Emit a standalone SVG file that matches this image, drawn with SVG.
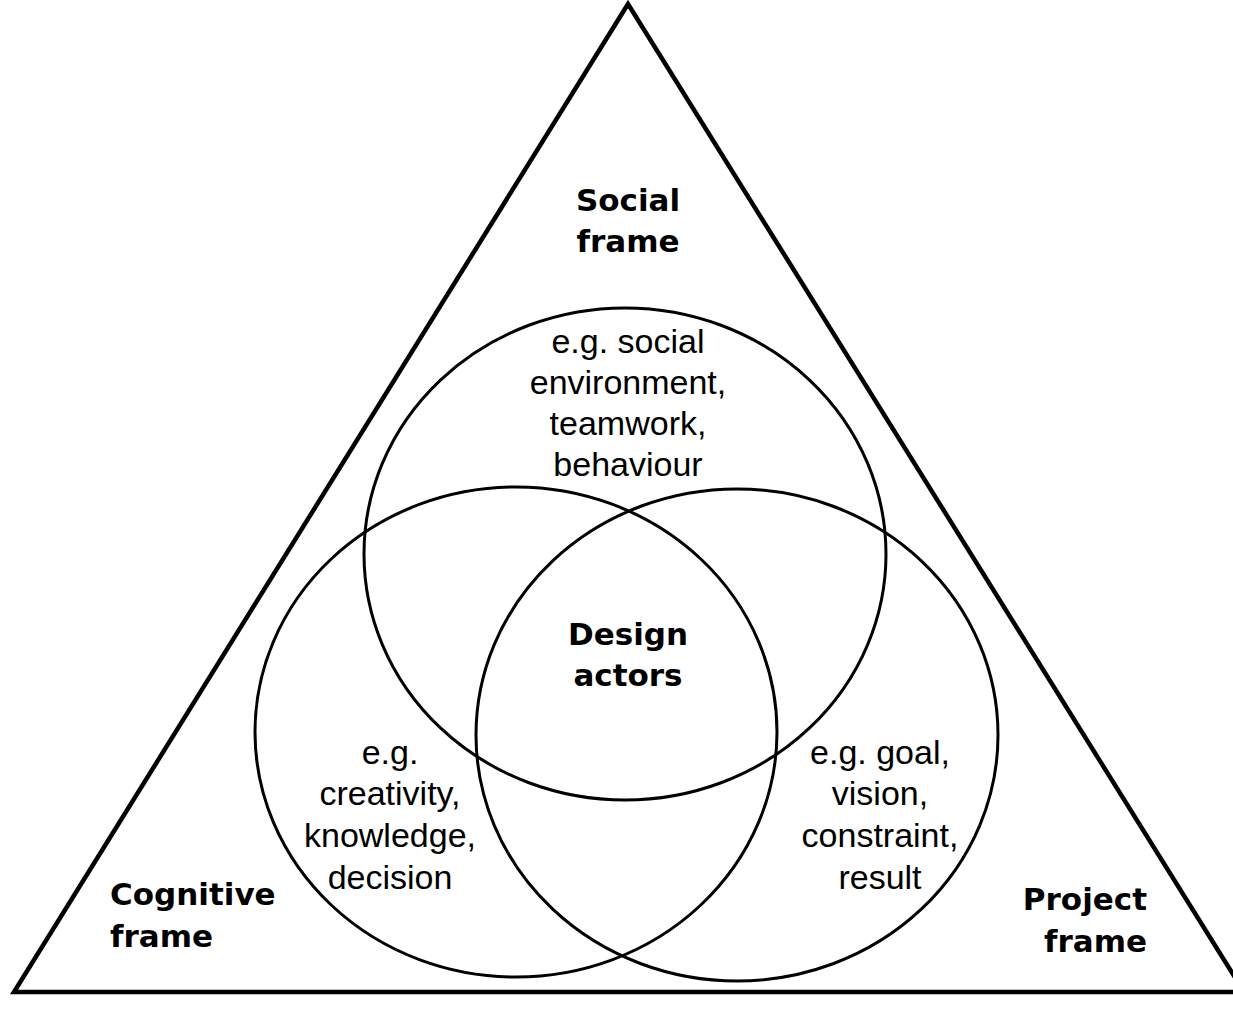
<svg xmlns="http://www.w3.org/2000/svg" width="1233" height="1028" viewBox="0 0 1233 1028">
<style>
.tri{fill:none;stroke:#000;stroke-width:4.5;stroke-linejoin:miter}
.c{fill:none;stroke:#000;stroke-width:3}
.b{font-family:"DejaVu Sans",Verdana,sans-serif;font-weight:bold;font-size:31px;fill:#000}
.r{font-family:"Liberation Sans",Arial,sans-serif;font-size:34px;fill:#000;text-anchor:middle}
</style>
<rect width="1233" height="1028" fill="#fff"/>
<g id="triangle"><polygon class="tri" points="628,4 14,992 1244,992"/></g>
<g id="social-circle">
<ellipse class="c" cx="625" cy="554" rx="261" ry="246"/>
<text class="r" x="628" y="353">e.g. social</text>
<text class="r" x="628" y="394">environment,</text>
<text class="r" x="628" y="435">teamwork,</text>
<text class="r" x="628" y="476">behaviour</text>
</g>
<g id="cognitive-circle">
<ellipse class="c" cx="516" cy="732" rx="261" ry="245"/>
<text class="r" x="390" y="764">e.g.</text>
<text class="r" x="390" y="805">creativity,</text>
<text class="r" x="390" y="847">knowledge,</text>
<text class="r" x="390" y="889">decision</text>
</g>
<g id="project-circle">
<ellipse class="c" cx="737" cy="735" rx="261" ry="246"/>
<text class="r" x="880" y="764">e.g. goal,</text>
<text class="r" x="880" y="805">vision,</text>
<text class="r" x="880" y="847">constraint,</text>
<text class="r" x="880" y="889">result</text>
</g>
<g id="social-frame"><text class="b" text-anchor="middle" x="628" y="211">Social</text><text class="b" text-anchor="middle" x="628" y="252">frame</text></g>
<g id="design-actors"><text class="b" text-anchor="middle" x="628" y="645">Design</text><text class="b" text-anchor="middle" x="628" y="686">actors</text></g>
<g id="cognitive-frame"><text class="b" x="110" y="905">Cognitive</text><text class="b" x="110" y="947">frame</text></g>
<g id="project-frame"><text class="b" text-anchor="end" x="1147" y="910">Project</text><text class="b" text-anchor="end" x="1147" y="952">frame</text></g>
<g id="connectors"></g>
</svg>
